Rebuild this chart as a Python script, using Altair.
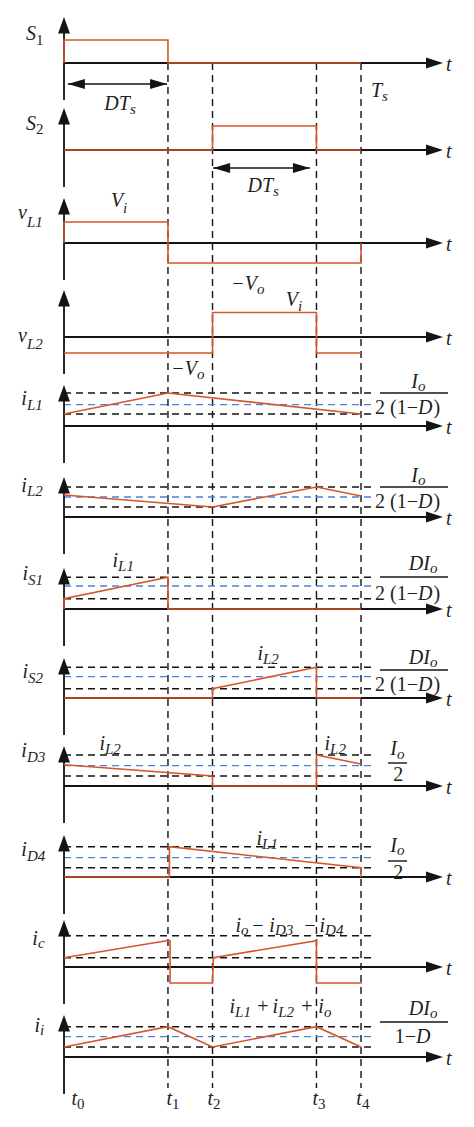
import altair as alt
import pandas as pd

# ---------------- values ----------------
# switching instants, as a fraction of Ts (t0 .. t4)
T = [0.0, 0.35, 0.50, 0.85, 1.0]
T_NAMES = ["0", "1", "2", "3", "4"]

PANELS = ["S1", "S2", "vL1", "vL2", "iL1", "iL2", "iS1", "iS2", "iD3", "iD4", "ic", "ii"]

# waveforms: time (fraction of Ts) and level (drawing units above the panel baseline)
S1_t = [0, 0, 0.35, 0.35, 1.0]
S1_v = [0, 23, 23, 0, 0]
S2_t = [0, 0.5, 0.5, 0.85, 0.85, 1.0]
S2_v = [0, 0, 24, 24, 0, 0]
VL1_t = [0, 0, 0.35, 0.35, 1.0, 1.0]
VL1_v = [0, 21, 21, -20, -20, 0]
VL2_t = [0, 0.5, 0.5, 0.85, 0.85, 1.0]
VL2_v = [-16, -16, 24.5, 24.5, -16, -16]
IL1_t = [0, 0.35, 1.0]
IL1_v = [12, 33, 12]
IL2_t = [0, 0.5, 0.85, 1.0]
IL2_v = [22, 10, 30, 21]
IS1_t = [0, 0, 0.35, 0.35, 1.0]
IS1_v = [0, 10.3, 31.7, 0, 0]
IS2_t = [0, 0.5, 0.5, 0.85, 0.85, 1.0]
IS2_v = [0, 0, 9.3, 30.7, 0, 0]
ID3_t = [0, 0.5, 0.5, 0.85, 0.85, 1.0]
ID3_v = [21.3, 10, 0, 0, 31, 22]
ID4_t = [0, 0.355, 0.355, 1.0, 1.0]
ID4_v = [0, 0, 30.3, 9.3, 0]
IC_t = [0, 0.345, 0.357, 0.357, 0.5, 0.503, 0.85, 0.85, 1.003]
IC_v = [9.3, 26.3, 26.3, -16, -16, 9.3, 26.3, -16, -16]
II_t = [0, 0.35, 0.5, 0.85, 1.0]
II_v = [10, 30.3, 10, 30.3, 10]

# guide levels (upper dashed, blue mean, lower dashed) for the current panels
GUIDE_PANELS = ["iL1", "iL2", "iS1", "iS2", "iD3", "iD4", "ic", "ii"]
GUIDE_UP = [33, 30, 31.7, 30.7, 31, 30.3, 31.3, 30.3]
GUIDE_MEAN = [21.3, 20, 23, 21.3, 20.3, 19.3, None, 20.3]
GUIDE_LO = [12, 10, 10.3, 9.3, 10, 9.3, 9.3, 10]

# ---------------- layout (drawing units) ----------------
BASE = [63, 150, 243, 337, 426, 517, 609, 698, 786, 877, 967, 1057]
ARROW_H = [46, 42, 45, 47, 41, 40, 41, 40, 40, 42, 47, 42]
AXIS_BELOW = 37
T_GUIDE_END = 1.047
T_ARROW = 1.276
T_LABEL = 1.286

BLACK = "#141414"
RED = "#d5562d"
BLUE = "#4a82d6"
TXT = "#1e1e1e"
FONT = "Liberation Serif"

xs = alt.Scale(domain=[-0.1886, 1.3535], nice=False, zero=False)
ys = alt.Scale(domain=[1119, 8], nice=False, zero=False)


def X(f):
    return alt.X(f, type="quantitative", scale=xs, axis=None)


def Y(f):
    return alt.Y(f, type="quantitative", scale=ys, axis=None)


pidx = {p: i for i, p in enumerate(PANELS)}

# ---- waveforms ----
waves = [("S1", S1_t, S1_v), ("S2", S2_t, S2_v), ("vL1", VL1_t, VL1_v), ("vL2", VL2_t, VL2_v),
         ("iL1", IL1_t, IL1_v), ("iL2", IL2_t, IL2_v), ("iS1", IS1_t, IS1_v), ("iS2", IS2_t, IS2_v),
         ("iD3", ID3_t, ID3_v), ("iD4", ID4_t, ID4_v), ("ic", IC_t, IC_v), ("ii", II_t, II_v)]
wrows = []
for name, tt, vv in waves:
    b = BASE[pidx[name]]
    for i, (t, v) in enumerate(zip(tt, vv)):
        wrows.append(dict(panel=name, seq=i, t=t, y=b - v))
wave_df = pd.DataFrame(wrows)

# ---- axes ----
arows = []
for k in range(len(PANELS)):
    b = BASE[k]
    arows.append(dict(x=0, x2=T_ARROW - 0.03, y=b, y2=b))
    arows.append(dict(x=0, x2=0, y=b + AXIS_BELOW, y2=b - ARROW_H[k] + 10))
axis_df = pd.DataFrame(arows)
up_df = pd.DataFrame([dict(x=0, y=BASE[k] - ARROW_H[k]) for k in range(len(PANELS))])
right_df = pd.DataFrame([dict(x=T_ARROW, y=BASE[k]) for k in range(len(PANELS))])

# ---- vertical dashed lines ----
vd_df = pd.DataFrame([dict(x=t, y=BASE[0], y2=BASE[-1] + 31) for t in T[1:]])

# ---- guide lines ----
g_black, g_blue = [], []
for name, up, mean, lo in zip(GUIDE_PANELS, GUIDE_UP, GUIDE_MEAN, GUIDE_LO):
    b = BASE[pidx[name]]
    g_black.append(dict(x=0, x2=T_GUIDE_END, y=b - up))
    g_black.append(dict(x=0, x2=T_GUIDE_END, y=b - lo))
    if mean is not None:
        g_blue.append(dict(x=0, x2=T_GUIDE_END, y=b - mean))
gb_df = pd.DataFrame(g_black)
gbl_df = pd.DataFrame(g_blue)

# ---- fraction bars ----
frac_df = pd.DataFrame([
    dict(x=1.064, x2=1.293, y=393), dict(x=1.064, x2=1.293, y=487),
    dict(x=1.064, x2=1.293, y=577), dict(x=1.064, x2=1.293, y=670),
    dict(x=1.091, x2=1.155, y=763), dict(x=1.091, x2=1.155, y=861),
    dict(x=1.064, x2=1.293, y=1022),
])

# ---- DTs double arrows ----
dt_df = pd.DataFrame([dict(x=0.013, x2=0.347, y=84), dict(x=0.502, x2=0.828, y=168)])
dt_left = pd.DataFrame([dict(x=0.013, y=84), dict(x=0.502, y=168)])
dt_right = pd.DataFrame([dict(x=0.347, y=84), dict(x=0.828, y=168)])

# ---- texts: (text, x, y, size, align, style) ----
I, U = "italic", "normal"
texts = []


def lab(main, sub, j, yb, ysub, msize=20, ssize=15, sstyle=I):
    texts.append((main, j, yb, msize, "right", I))
    texts.append((sub, j, ysub, ssize, "left", sstyle))


# panel labels
lab("S", "1", -0.094, 40, 45, sstyle=U)
lab("S", "2", -0.094, 130, 134, sstyle=U)
lab("v", "L1", -0.125, 219, 227)
lab("v", "L2", -0.125, 342, 349)
lab("i", "L1", -0.125, 405, 410)
lab("i", "L2", -0.125, 492, 496)
lab("i", "S1", -0.121, 580, 585)
lab("i", "S2", -0.121, 678, 683)
lab("i", "D3", -0.125, 757, 762)
lab("i", "D4", -0.125, 856, 861)
lab("i", "c", -0.088, 945, 948)
lab("i", "i", -0.081, 1032, 1035)
# t at the end of every time axis
for b in BASE:
    texts.append(("t", T_LABEL, b + 8, 20, "left", I))
# t0..t4
for j, n in zip([0.044, 0.364, 0.502, 0.855, 1.003], T_NAMES):
    lab("t", n, j, 1105, 1109, sstyle=U)
# annotations
lab("DT", "s", 0.222, 110, 114)
lab("DT", "s", 0.704, 192, 196)
lab("T", "s", 1.071, 97, 101)
lab("V", "i", 0.199, 207, 213)
lab("−V", "o", 0.650, 290, 294)
lab("V", "i", 0.788, 306, 311)
lab("−V", "o", 0.448, 375, 379)
lab("i", "L1", 0.182, 567, 571)
lab("i", "L2", 0.670, 660, 664)
lab("i", "L2", 0.138, 750, 754)
lab("i", "L2", 0.896, 750, 754)
lab("i", "L1", 0.667, 845, 849)
# i_o - i_D3 - i_D4
lab("i", "o", 0.596, 932, 935)
texts.append(("−", 0.653, 932, 20, "center", U))
lab("i", "D3", 0.710, 932, 935)
texts.append(("−", 0.828, 932, 20, "center", U))
lab("i", "D4", 0.879, 932, 935)
# i_L1 + i_L2 + i_o
lab("i", "L1", 0.576, 1013, 1017)
texts.append(("+", 0.670, 1013, 20, "center", U))
lab("i", "L2", 0.721, 1013, 1017)
texts.append(("+", 0.818, 1013, 20, "center", U))
lab("i", "o", 0.875, 1013, 1017)
# fractions
lab("I", "o", 1.192, 388, 391)
lab("I", "o", 1.192, 482, 485)
lab("DI", "o", 1.232, 570, 573)
lab("DI", "o", 1.232, 664, 667)
lab("I", "o", 1.121, 755, 759)
lab("I", "o", 1.121, 852, 855)
lab("DI", "o", 1.232, 1015, 1018)
for yb in [414, 508, 600, 691]:
    texts.append(("2 (1−", 1.192, yb, 20, "right", U))
    texts.append(("D", 1.192, yb, 20, "left", I))
    texts.append((")", 1.244, yb, 20, "left", U))
texts.append(("2", 1.125, 781, 20, "center", U))
texts.append(("2", 1.125, 879, 20, "center", U))
texts.append(("1−", 1.185, 1043, 20, "right", U))
texts.append(("D", 1.185, 1043, 20, "left", I))

text_df = pd.DataFrame(texts, columns=["text", "x", "y", "size", "align", "style"])

# ---------------- chart ----------------
UP = "M0,0L-0.36,1L0.36,1Z"
RIGHT = "M0,0L-1,-0.33L-1,0.33Z"
LEFT_S = "M0,0L1,-0.3L1,0.3Z"
RIGHT_S = "M0,0L-1,-0.3L-1,0.3Z"

layers = []
layers.append(alt.Chart(vd_df).mark_rule(color=BLACK, strokeWidth=1.4, strokeDash=[7, 5]).encode(
    x=X("x"), y=Y("y"), y2="y2"))
layers.append(alt.Chart(gb_df).mark_rule(color=BLACK, strokeWidth=1.4, strokeDash=[7, 5]).encode(
    x=X("x"), x2="x2", y=Y("y")))
layers.append(alt.Chart(gbl_df).mark_rule(color=BLUE, strokeWidth=1.3, strokeDash=[7, 5]).encode(
    x=X("x"), x2="x2", y=Y("y")))
layers.append(alt.Chart(axis_df).mark_rule(color=BLACK, strokeWidth=1.8).encode(
    x=X("x"), x2="x2", y=Y("y"), y2="y2"))
layers.append(alt.Chart(up_df).mark_point(shape=UP, size=1089, filled=True, color=BLACK,
                                          opacity=1, strokeWidth=0).encode(x=X("x"), y=Y("y")))
layers.append(alt.Chart(right_df).mark_point(shape=RIGHT, size=1156, filled=True, color=BLACK,
                                             opacity=1, strokeWidth=0).encode(x=X("x"), y=Y("y")))
layers.append(alt.Chart(wave_df).mark_line(color=RED, strokeWidth=1.6).encode(
    x=X("t"), y=Y("y"), detail="panel:N", order="seq:Q"))
layers.append(alt.Chart(frac_df).mark_rule(color=BLACK, strokeWidth=1.4).encode(
    x=X("x"), x2="x2", y=Y("y")))
layers.append(alt.Chart(dt_df).mark_rule(color=BLACK, strokeWidth=1.6).encode(
    x=X("x"), x2="x2", y=Y("y")))
layers.append(alt.Chart(dt_left).mark_point(shape=LEFT_S, size=1156, filled=True, color=BLACK,
                                            opacity=1, strokeWidth=0).encode(x=X("x"), y=Y("y")))
layers.append(alt.Chart(dt_right).mark_point(shape=RIGHT_S, size=1156, filled=True, color=BLACK,
                                             opacity=1, strokeWidth=0).encode(x=X("x"), y=Y("y")))

for (al, st), _g in text_df.groupby(["align", "style"]):
    layers.append(
        alt.Chart(text_df).transform_filter(
            (alt.datum.align == al) & (alt.datum.style == st)
        ).mark_text(align=al, baseline="alphabetic", font=FONT, fontStyle=st, color=TXT).encode(
            x=X("x"), y=Y("y"), text="text:N", size=alt.Size("size:Q", scale=None))
    )

chart = alt.layer(*layers).properties(
    width=458, height=1111, padding=0,
    autosize=alt.AutoSizeParams(type="none"),
    background="white",
).configure_view(stroke=None)

chart.save("out.html", embed_options={"renderer": "svg", "actions": False})
